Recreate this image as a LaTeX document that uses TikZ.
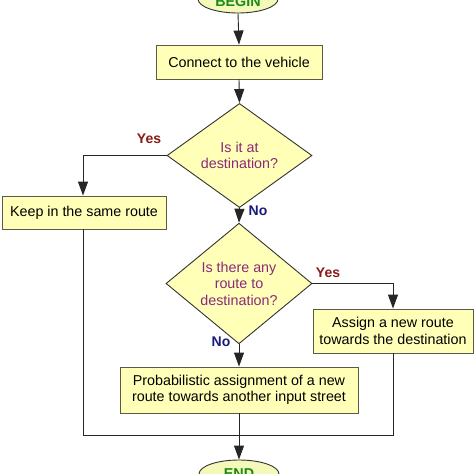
\documentclass[tikz,border=0pt]{standalone}
\usepackage{fontspec}
\setmainfont{Liberation Sans}
\usetikzlibrary{arrows.meta,shapes.geometric}
\definecolor{boxfill}{HTML}{FFFFB8}
\definecolor{boxline}{HTML}{5A5A48}
\definecolor{qtext}{HTML}{8A2A7A}
\definecolor{yescol}{HTML}{8A1A1A}
\definecolor{nocol}{HTML}{1A1A7A}
\definecolor{termcol}{HTML}{1A8A1A}
\definecolor{termfill}{HTML}{F4F8B8}
\tikzset{
  x=1pt, y=-1pt,
  every node/.style={font=\fontsize{14.3}{16.5}\selectfont},
  procbox/.style={draw=boxline, fill=boxfill, line width=0.9pt, inner sep=0pt, align=center},
  decision/.style={draw=black!80, fill=boxfill, line width=0.9pt, diamond, inner sep=0pt, align=center, text=qtext},
  term/.style={draw=black!80, fill=termfill, line width=0.9pt, ellipse, inner sep=0pt, text=termcol, font=\fontsize{14.3}{16.5}\selectfont\bfseries},
  termtext/.style={inner sep=0pt, text=termcol, font=\fontsize{14.3}{16.5}\selectfont\bfseries},
  conn/.style={draw=black!85, line width=0.9pt},
  arr/.style={conn, -{Triangle[length=14pt,width=10pt]}},
  yes/.style={text=yescol, font=\fontsize{14}{16}\selectfont\bfseries},
  no/.style={text=nocol, font=\fontsize{14}{16}\selectfont\bfseries},
}
\begin{document}
\begin{tikzpicture}
\useasboundingbox (0,0) rectangle (474,474);
\fill[white] (0,0) rectangle (474,474);
\node[term, minimum width=80pt, minimum height=28pt] (begin) at (238,-1) {};
\node[termtext] (begintxt) at (238,1.5) {BEGIN};
\node[procbox, minimum width=166pt, minimum height=34pt] (connect) at (239,62) {Connect to the vehicle};
\node[decision, minimum width=145pt, minimum height=101pt] (d1) at (239.5,155.5) {Is it at\\destination?};
\node[procbox, minimum width=164pt, minimum height=33pt] (keep) at (84,212.5) {Keep in the same route};
\node[decision, minimum width=146pt, minimum height=105pt] (d2) at (239,283.5) {Is there any\\route to\\destination?};
\node[procbox, minimum width=160pt, minimum height=44pt] (assign) at (393,331) {Assign a new route\\towards the destination};
\node[procbox, minimum width=238pt, minimum height=46pt] (prob) at (239,390) {Probabilistic assignment of a new\\route towards another input street};
\node[term, minimum width=80pt, minimum height=28pt] (end) at (239,474) {END};
\coordinate (bl) at (83,435);
\coordinate (br) at (393,435);
\coordinate (yl) at (83,155.5);
\coordinate (yr) at (393,283.5);
\draw[arr] (begin.south) -- (connect.north);
\draw[arr] (connect.south) -- (d1.north);
\draw[arr] (d1.west) -- (yl) -- (keep.north -| yl);
\draw[arr] (d1.south) -- (d2.north);
\draw[arr] (d2.east) -- (yr) -- (assign.north);
\draw[arr] (d2.south) -- (prob.north);
\draw[conn] (keep.south -| bl) -- (bl) -- (br) -- (assign.south);
\draw[arr] (prob.south) -- (end.north);
\node[yes] (y1) at (149,139) {Yes};
\node[no] (n1) at (258,211) {No};
\node[yes] (y2) at (328,273) {Yes};
\node[no] (n2) at (221,342) {No};
\end{tikzpicture}
\end{document}
